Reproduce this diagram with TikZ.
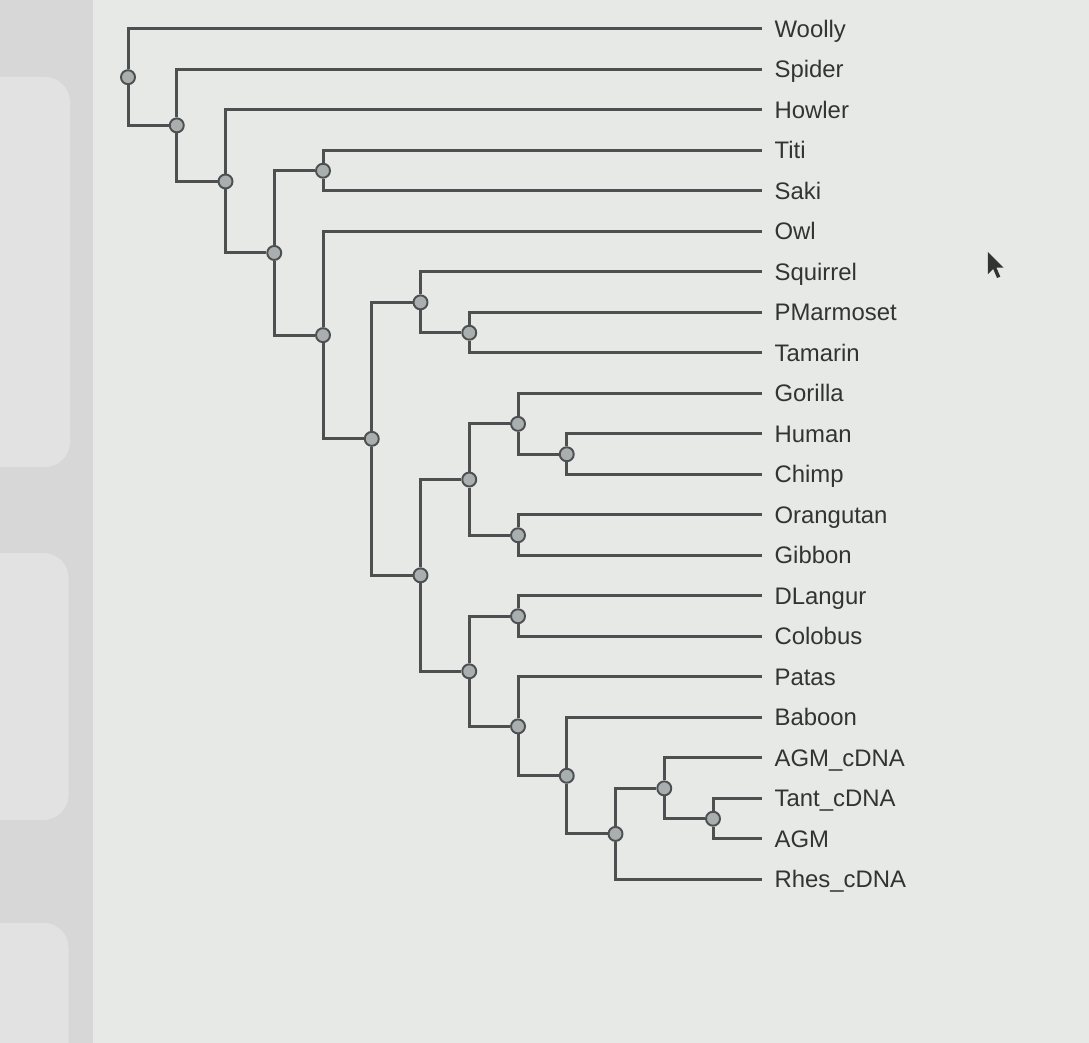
\documentclass[tikz,border=0pt]{standalone}
\usepackage{fontspec}
\setmainfont{Liberation Sans}
\usepackage{tikz}

\definecolor{screenbg}{HTML}{E7E9E7}
\definecolor{stripbg}{HTML}{D6D7D6}
\definecolor{panelbg}{HTML}{E1E2E1}
\definecolor{branchcol}{HTML}{4D4F50}
\definecolor{dotfill}{HTML}{A9AEAE}
\definecolor{labelcol}{HTML}{333333}

\tikzset{
  branch/.style={line width=1.7pt, draw=branchcol},
  split/.style={circle, draw=branchcol, line width=1.1pt, fill=dotfill, minimum size=0.28cm, inner sep=0pt},
  leaf/.style={anchor=west, inner xsep=0.25cm, inner ysep=0pt, text height=0.34cm, text depth=0pt,
    text=labelcol, font=\fontsize{13.6}{16}\selectfont}
}

\begin{document}
\begin{tikzpicture}[x=0.975cm, y=-0.81cm]
% Screen
\useasboundingbox (-2.626,-0.716) rectangle (19.713,25.037);
\clip (-2.626,-0.716) rectangle (19.713,25.037);
\fill[screenbg] (-2.626,-0.716) rectangle (19.713,25.037);
\fill[stripbg] (-2.626,-0.716) rectangle (-0.72,25.037);
\fill[panelbg, rounded corners=0.5cm] (-3.5,1.185) rectangle (-1.19,10.815);
\fill[panelbg, rounded corners=0.5cm] (-3.5,12.94) rectangle (-1.22,19.53);
\fill[panelbg, rounded corners=0.5cm] (-3.5,22.07) rectangle (-1.22,26);

% Taxa
\node[leaf] (woolly) at (13,0) {Woolly};
\node[leaf] (spider) at (13,1) {Spider};
\node[leaf] (howler) at (13,2) {Howler};
\node[leaf] (titi) at (13,3) {Titi};
\node[leaf] (saki) at (13,4) {Saki};
\node[leaf] (owl) at (13,5) {Owl};
\node[leaf] (squirrel) at (13,6) {Squirrel};
\node[leaf] (pmarmoset) at (13,7) {PMarmoset};
\node[leaf] (tamarin) at (13,8) {Tamarin};
\node[leaf] (gorilla) at (13,9) {Gorilla};
\node[leaf] (human) at (13,10) {Human};
\node[leaf] (chimp) at (13,11) {Chimp};
\node[leaf] (orangutan) at (13,12) {Orangutan};
\node[leaf] (gibbon) at (13,13) {Gibbon};
\node[leaf] (dlangur) at (13,14) {DLangur};
\node[leaf] (colobus) at (13,15) {Colobus};
\node[leaf] (patas) at (13,16) {Patas};
\node[leaf] (baboon) at (13,17) {Baboon};
\node[leaf] (agmc) at (13,18) {AGM\_cDNA};
\node[leaf] (tantc) at (13,19) {Tant\_cDNA};
\node[leaf] (agm) at (13,20) {AGM};
\node[leaf] (rhesc) at (13,21) {Rhes\_cDNA};

% Splits
\node[split] (root) at (0,1.19) {};
\node[split] (ateA) at (1,2.38) {};
\node[split] (howA) at (2,3.765) {};
\node[split] (cebA) at (3,5.53) {};
\node[split] (pith) at (4,3.5) {};
\node[split] (owlA) at (4,7.56) {};
\node[split] (catA) at (5,10.12) {};
\node[split] (squA) at (6,6.75) {};
\node[split] (marm) at (7,7.5) {};
\node[split] (oldA) at (6,13.49) {};
\node[split] (apes) at (7,11.125) {};
\node[split] (gorA) at (8,9.75) {};
\node[split] (homo) at (9,10.5) {};
\node[split] (lesser) at (8,12.5) {};
\node[split] (monk) at (7,15.86) {};
\node[split] (colob) at (8,14.5) {};
\node[split] (cerc) at (8,17.22) {};
\node[split] (babA) at (9,18.44) {};
\node[split] (rhesA) at (10,19.875) {};
\node[split] (agmA) at (11,18.75) {};
\node[split] (tant) at (12,19.5) {};

% Branches
\draw[branch] (root) |- (woolly.west) (root) |- (ateA);
\draw[branch] (ateA) |- (spider.west) (ateA) |- (howA);
\draw[branch] (howA) |- (howler.west) (howA) |- (cebA);
\draw[branch] (cebA) |- (pith) (cebA) |- (owlA);
\draw[branch] (pith) |- (titi.west) (pith) |- (saki.west);
\draw[branch] (owlA) |- (owl.west) (owlA) |- (catA);
\draw[branch] (catA) |- (squA) (catA) |- (oldA);
\draw[branch] (squA) |- (squirrel.west) (squA) |- (marm);
\draw[branch] (marm) |- (pmarmoset.west) (marm) |- (tamarin.west);
\draw[branch] (oldA) |- (apes) (oldA) |- (monk);
\draw[branch] (apes) |- (gorA) (apes) |- (lesser);
\draw[branch] (gorA) |- (gorilla.west) (gorA) |- (homo);
\draw[branch] (homo) |- (human.west) (homo) |- (chimp.west);
\draw[branch] (lesser) |- (orangutan.west) (lesser) |- (gibbon.west);
\draw[branch] (monk) |- (colob) (monk) |- (cerc);
\draw[branch] (colob) |- (dlangur.west) (colob) |- (colobus.west);
\draw[branch] (cerc) |- (patas.west) (cerc) |- (babA);
\draw[branch] (babA) |- (baboon.west) (babA) |- (rhesA);
\draw[branch] (rhesA) |- (agmA) (rhesA) |- (rhesc.west);
\draw[branch] (agmA) |- (agmc.west) (agmA) |- (tant);
\draw[branch] (tant) |- (tantc.west) (tant) |- (agm.west);

% Pointer
\fill[black!80, shift={(17.64,5.506)}, x=0.026cm, y=-0.026cm]
  (0,0) -- (0,17) -- (4,13) -- (7,20) -- (9.5,19) -- (6.5,12) -- (12,12) -- cycle;
\end{tikzpicture}
\end{document}
